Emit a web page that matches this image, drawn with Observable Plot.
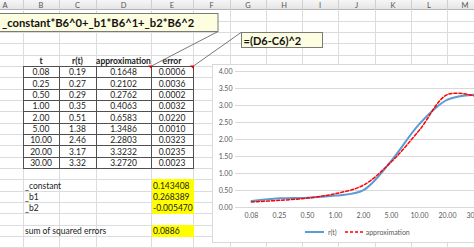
<!DOCTYPE html>
<html>
<head>
<meta charset="utf-8">
<script src="https://cdn.jsdelivr.net/npm/d3@7"></script>
<script src="https://cdn.jsdelivr.net/npm/@observablehq/plot@0.6"></script>
<style>
  html, body { margin: 0; padding: 0; background: #fff; }
  body { width: 474px; height: 248px; overflow: hidden; position: relative; font-family: Lato, "Open Sans", sans-serif; }
  #sheet { position: absolute; left: 0; top: 0; }
  #chart { position: absolute; left: 212px; top: 64px; width: 280px; height: 179px; background: #fff; outline: 1px solid #d9d9d9; outline-offset: -1px; }
  #chart svg.plot { position: absolute; left: 0; top: 0; }
  #legend { position: absolute; left: 0; top: 161px; height: 14px; display: flex; align-items: center; font-size: 7px; color: #595959; padding-left: 93px; white-space: nowrap; }
  #legend svg { display: block; }
</style>
</head>
<body>
<svg id="sheet" width="474" height="248"></svg>
<div id="chart"><div id="legend"></div></div>
<script>
// ---- data ----
const columnLetters = ["A","B","C","D","E","F","G","H","I","J","K","L","M"];
const tableHeaders = ["t", "r(t)", "approximation", "error"];
const tLabels = ["0.08","0.25","0.50","1.00","2.00","5.00","10.00","20.00","30.00"];
const rValues = [0.19, 0.27, 0.29, 0.35, 0.51, 1.38, 2.46, 3.17, 3.32];
const approxValues = [0.1648, 0.2102, 0.2762, 0.4063, 0.6583, 1.3486, 2.2803, 3.3232, 3.2720];
const errorValues = [0.0006, 0.0036, 0.0002, 0.0032, 0.0220, 0.0010, 0.0323, 0.0235, 0.0023];
const paramNames = ["_constant", "_b1", "_b2"];
const paramValues = ["0.143408", "0.268389", "-0.005470"];
const sseLabel = "sum of squared errors";
const sseValue = "0.0886";
const formula1 = "_constant*B6^0+_b1*B6^1+_b2*B6^2";
const formula2 = "=(D6-C6)^2";
const yTicks = [0, 0.5, 1, 1.5, 2, 2.5, 3, 3.5, 4];
const seriesNames = ["r(t)", "approximation"];

// ---- spreadsheet layout ----
const colEdges = [-13, 23, 59, 96, 151, 193, 230, 266, 302, 338, 375, 411, 447, 483];
const headerH = 9.5, rowH = 11.33;
const rowTop = k => headerH + (k - 1) * rowH;
const colCenter = c => (colEdges[c] + colEdges[c + 1]) / 2;

const svg = d3.select("#sheet");
// column header band
const hdrGrad = svg.append("defs").append("linearGradient").attr("id", "hg").attr("x1", 0).attr("x2", 0).attr("y1", 0).attr("y2", 1);
hdrGrad.append("stop").attr("offset", 0).attr("stop-color", "#f6f6f6");
hdrGrad.append("stop").attr("offset", 1).attr("stop-color", "#e4e4e4");
svg.append("rect").attr("x", 0).attr("y", 0).attr("width", 474).attr("height", headerH).attr("fill", "url(#hg)");
svg.append("line").attr("x1", 0).attr("x2", 474).attr("y1", headerH).attr("y2", headerH).attr("stroke", "#b5b5b5");
columnLetters.forEach((L, i) => {
  svg.append("line").attr("x1", colEdges[i + 1] + 0.5).attr("x2", colEdges[i + 1] + 0.5).attr("y1", 0).attr("y2", headerH).attr("stroke", "#cfcfcf");
  svg.append("text").attr("x", colCenter(i)).attr("y", 5).attr("text-anchor", "middle").attr("dominant-baseline", "central")
    .attr("font-size", 7.5).attr("fill", "#555").text(L);
});
// gridlines
for (let k = 2; k <= 23; k++) {
  svg.append("line").attr("x1", 0).attr("x2", 474).attr("y1", Math.round(rowTop(k)) + 0.5).attr("y2", Math.round(rowTop(k)) + 0.5).attr("stroke", "#dadcdd");
}
for (let i = 1; i < colEdges.length; i++) {
  svg.append("line").attr("x1", colEdges[i] + 0.5).attr("x2", colEdges[i] + 0.5).attr("y1", headerH).attr("y2", 248).attr("stroke", "#dadcdd");
}
// yellow cells
const yellowRows = [16, 17, 18, 20];
yellowRows.forEach(k => {
  svg.append("rect").attr("x", colEdges[4] + 1).attr("y", Math.round(rowTop(k)))
    .attr("width", colEdges[5] - colEdges[4]).attr("height", Math.round(rowTop(k + 1)) - Math.round(rowTop(k)) + 1).attr("fill", "#ffff00");
});
// table borders
for (let r = 0; r < tLabels.length; r++) {
  for (let c = 1; c <= 4; c++) {
    svg.append("rect").attr("x", colEdges[c] + 0.5).attr("y", Math.round(rowTop(6 + r)) + 0.5)
      .attr("width", colEdges[c + 1] - colEdges[c]).attr("height", Math.round(rowTop(7 + r)) - Math.round(rowTop(6 + r)))
      .attr("fill", "none").attr("stroke", "#505050").attr("stroke-width", 1);
  }
}
const cellText = (x, k, s, anchor, bold) => svg.append("text").attr("x", x).attr("y", rowTop(k) + rowH / 2 + 0.5)
  .attr("text-anchor", anchor).attr("dominant-baseline", "central").attr("font-size", 8.5)
  .attr("font-weight", bold ? "bold" : "normal").attr("fill", "#222").text(s);
tableHeaders.forEach((h, i) => cellText(colCenter(i + 1), 5, h, "middle", true));
tLabels.forEach((t, i) => {
  cellText(colCenter(1), 6 + i, t, "middle");
  cellText(colCenter(2), 6 + i, rValues[i].toFixed(2), "middle");
  cellText(colCenter(3), 6 + i, approxValues[i].toFixed(4), "middle");
  cellText(colCenter(4), 6 + i, errorValues[i].toFixed(4), "middle");
});
paramNames.forEach((p, i) => {
  cellText(colEdges[1] + 2, 16 + i, p, "start");
  cellText(colEdges[4] + 2, 16 + i, paramValues[i], "start");
});
cellText(colEdges[1] + 2, 20, sseLabel, "start");
cellText(colEdges[4] + 2, 20, sseValue, "start");

// comment callouts
const callouts = svg.append("g");
callouts.append("line").attr("x1", 218).attr("y1", 31.5).attr("x2", 151.5).attr("y2", 66).attr("stroke", "#555").attr("stroke-width", 0.8);
callouts.append("line").attr("x1", 241).attr("y1", 32.5).attr("x2", 193.5).attr("y2", 66).attr("stroke", "#555").attr("stroke-width", 0.8);
[151.5, 193.5].forEach(x => callouts.append("path").attr("d", `M${x - 3.5},${65.5}L${x + 0.5},${65.5}L${x + 0.5},${69.5}Z`).attr("fill", "#e00000"));
callouts.append("rect").attr("x", -5).attr("y", 13.5).attr("width", 223).attr("height", 18).attr("fill", "#fdfde0").attr("stroke", "#7a7a7a").attr("stroke-width", 1);
callouts.append("text").attr("x", 2).attr("y", 22.8).attr("dominant-baseline", "central").attr("font-size", 11.2).attr("font-weight", "bold").attr("fill", "#111").text(formula1);
callouts.append("rect").attr("x", 241.5).attr("y", 32.5).attr("width", 81).attr("height", 15).attr("fill", "#fdfde0").attr("stroke", "#7a7a7a").attr("stroke-width", 1);
callouts.append("text").attr("x", 243.5).attr("y", 40.5).attr("dominant-baseline", "central").attr("font-size", 11).attr("font-weight", "bold").attr("fill", "#111").text(formula2);

// ---- chart ----
const rows = tLabels.map((t, i) => ({t, r: rValues[i], approx: approxValues[i]}));
const colors = ["#5b9bd5", "#ff0000"];
const plot = Plot.plot({
  width: 280,
  height: 160,
  marginLeft: 23,
  marginRight: 1,
  marginTop: 7,
  marginBottom: 17,
  style: {background: "transparent", fontFamily: "Lato, sans-serif", fontSize: "7px", color: "#595959", overflow: "visible"},
  x: {type: "point", domain: tLabels, padding: 0.5, tickSize: 0, tickPadding: 6, label: null},
  y: {domain: [0, 4], ticks: yTicks, tickFormat: d => d.toFixed(2), tickSize: 0, tickPadding: 3, label: null},
  marks: [
    Plot.ruleY(yTicks, {stroke: "#d9d9d9", strokeWidth: 1}),
    Plot.line(rows, {x: "t", y: "r", stroke: colors[0], strokeWidth: 2, curve: "catmull-rom"}),
    Plot.line(rows, {x: "t", y: "approx", stroke: colors[1], strokeWidth: 1.5, strokeDasharray: "3,2", curve: "catmull-rom"})
  ]
});
plot.classList.add("plot");
document.getElementById("chart").prepend(plot);

// legend
const legend = d3.select("#legend");
seriesNames.forEach((name, i) => {
  const sw = legend.append("svg").attr("width", 19).attr("height", 6).style("margin-left", i === 0 ? "0px" : "8px").style("margin-right", i === 0 ? "4px" : "2px");
  sw.append("line").attr("x1", 0).attr("x2", 19).attr("y1", 3).attr("y2", 3).attr("stroke", colors[i])
    .attr("stroke-width", i === 0 ? 2 : 1.5).attr("stroke-dasharray", i === 0 ? null : "3,2");
  legend.append("span").text(name);
});
</script>
</body>
</html>
